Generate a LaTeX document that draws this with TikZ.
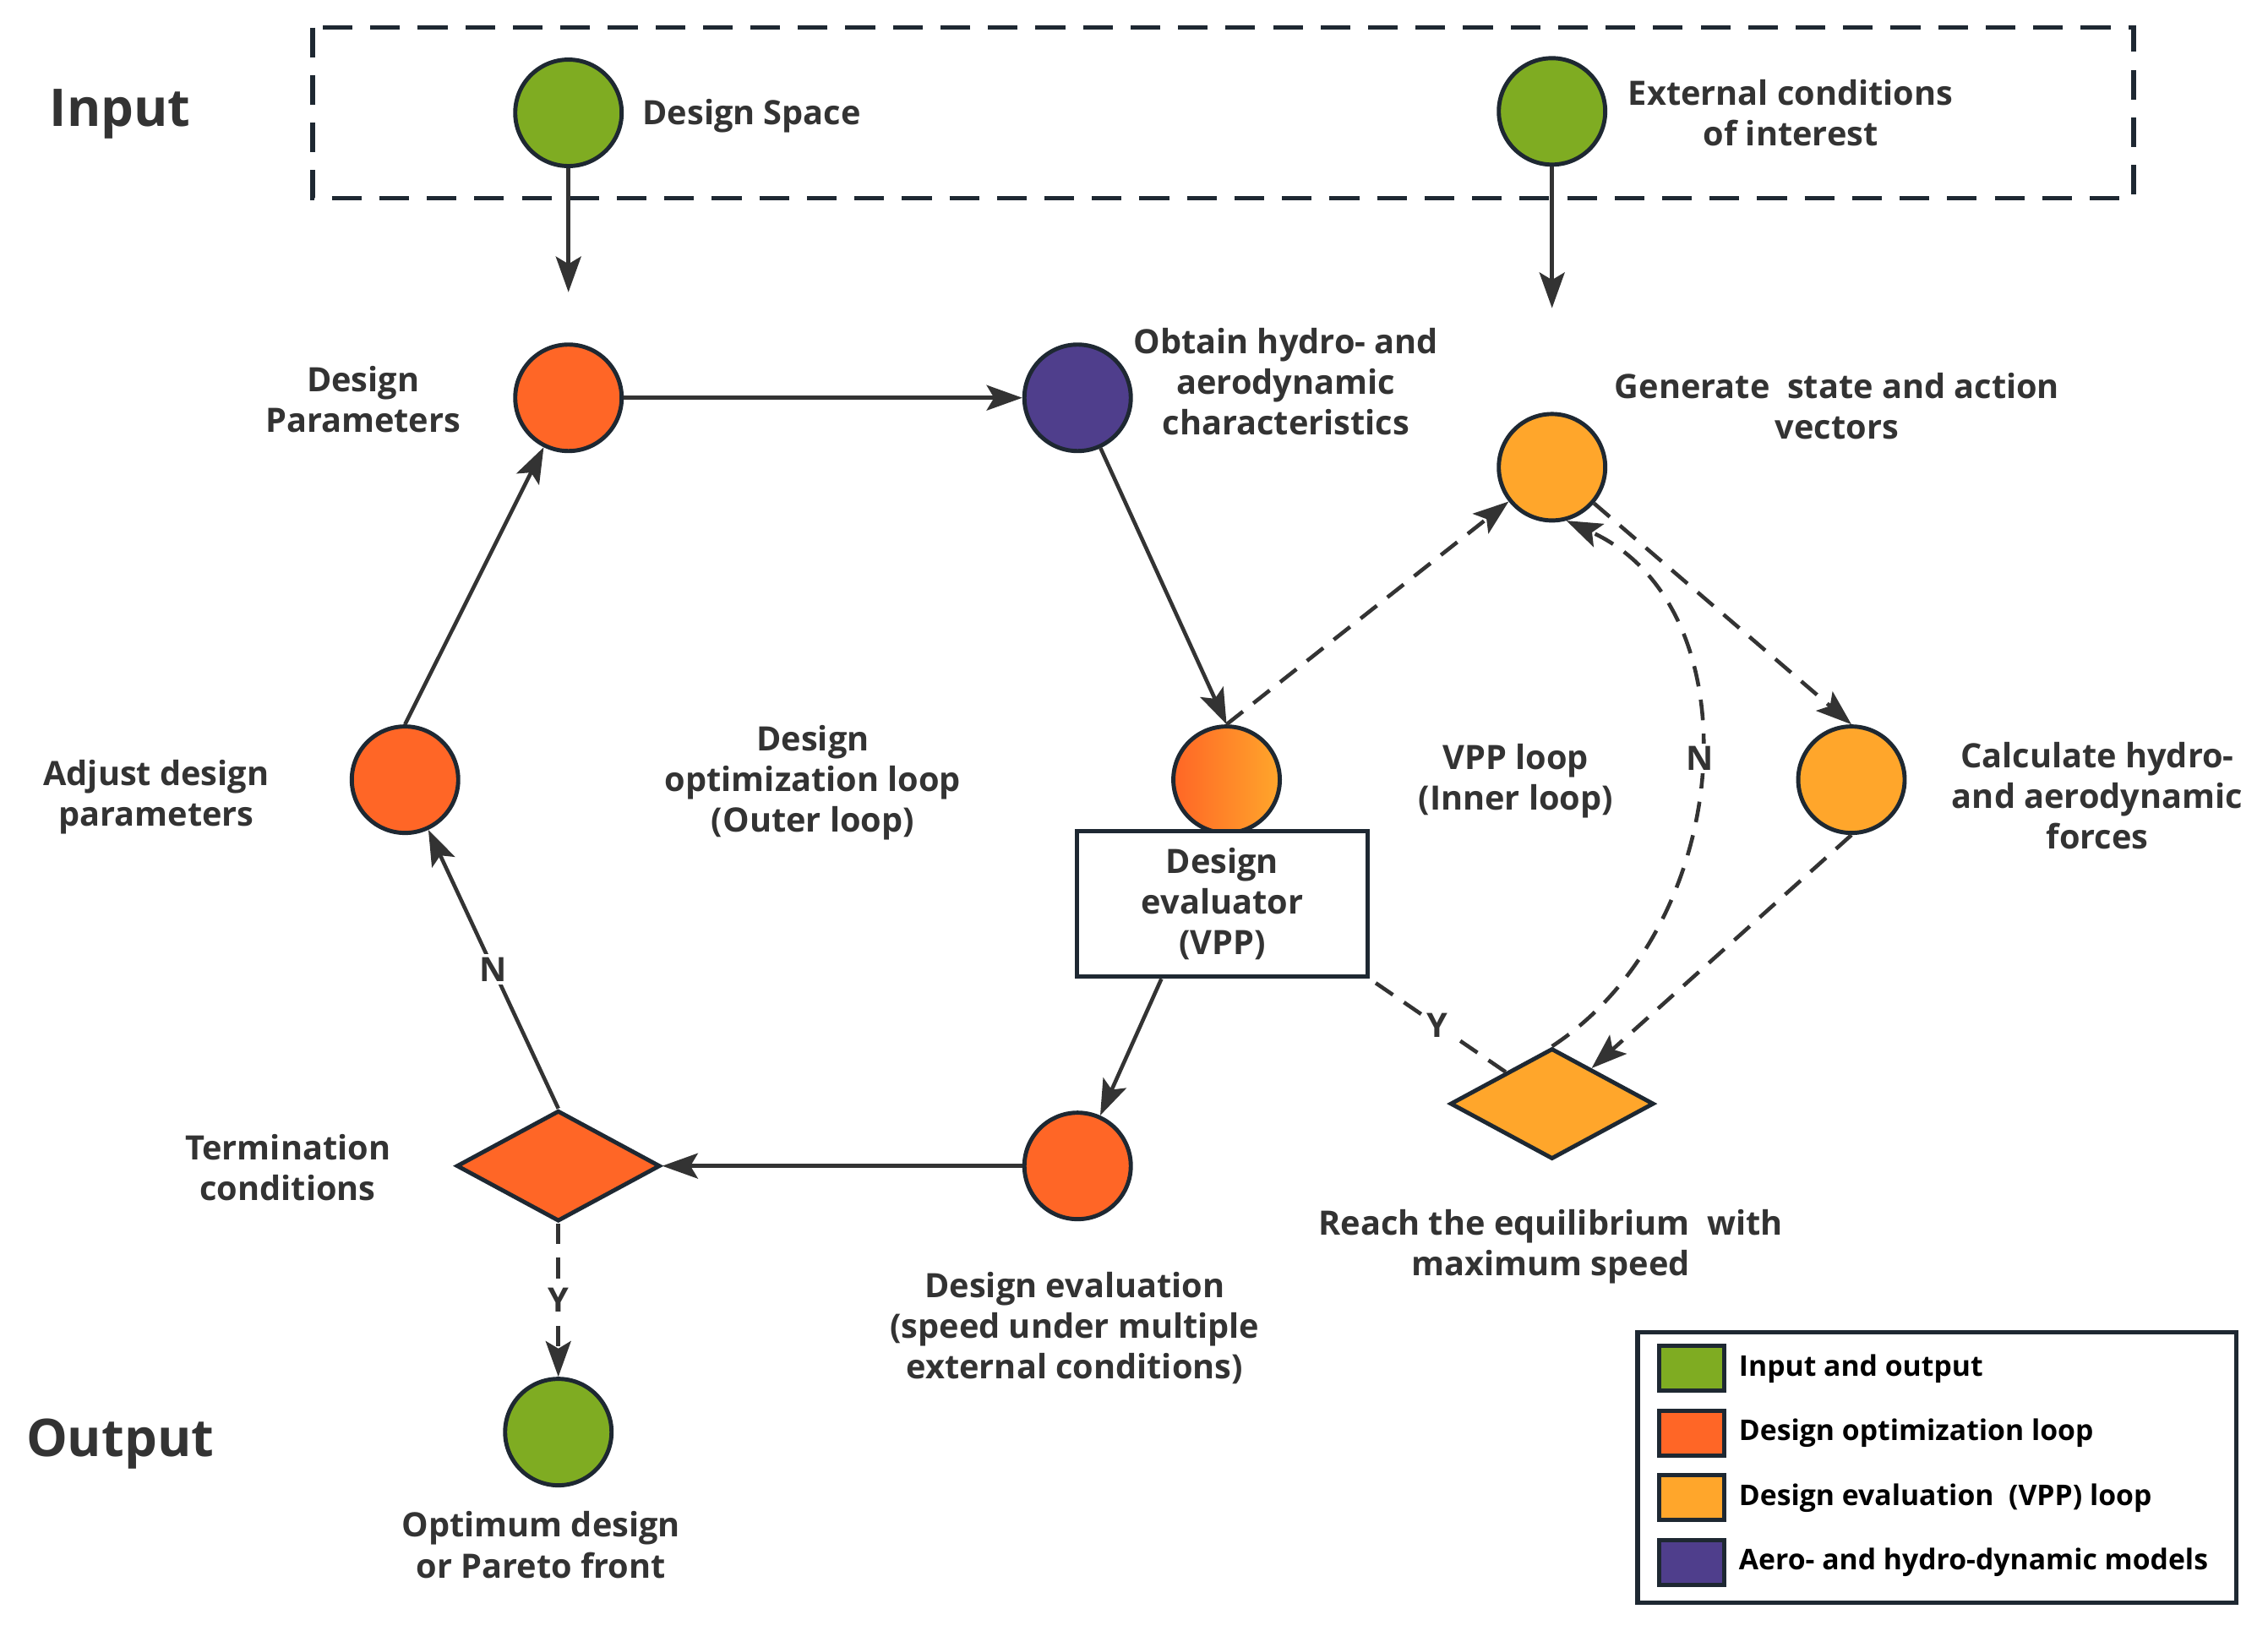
\documentclass[tikz,border=0pt]{standalone}
\usepackage{fontspec}
\setmainfont{Open Sans}
\usepackage{tikz}
\usetikzlibrary{arrows.meta,shapes,positioning}
\usepackage{xcolor}
\definecolor{vpgreen}{RGB}{127,172,34}
\definecolor{vpred}{RGB}{255,102,38}
\definecolor{vporange}{RGB}{255,166,43}
\definecolor{vppurple}{RGB}{79,62,140}
\definecolor{vpline}{RGB}{30,40,50}
\definecolor{vptext}{RGB}{51,51,51}
\tikzstyle{dot} = [circle, minimum size=1.26cm, inner sep=0pt, draw=vpline, line width=1.4pt]
\tikzstyle{decision} = [diamond, minimum width=2.41cm, minimum height=1.31cm, inner sep=0pt, draw=vpline, line width=1.4pt]
\tikzstyle{txt} = [font=\bfseries\fontsize{11.3}{13.7}\selectfont, text=vptext, align=center]
\tikzstyle{yn} = [txt, fill=white, inner sep=1pt]
\tikzstyle{key} = [rectangle, minimum width=0.77cm, minimum height=0.53cm, inner sep=0pt, draw=vpline, line width=1.4pt]
\tikzstyle{keytxt} = [font=\bfseries\fontsize{9.6}{11}\selectfont, text=black, anchor=west]
\tikzstyle{arrow} = [line width=1.3pt, draw=vptext, -{Stealth[length=12pt,width=8.5pt,inset=2.5pt]}]
\tikzstyle{dashline} = [line width=1.3pt, draw=vptext, dash pattern=on 7pt off 4.5pt]
\tikzstyle{dasharrow} = [arrow, dash pattern=on 7pt off 4.5pt]

\begin{document}
\begin{tikzpicture}[x=0.017117cm, y=-0.017117cm]
\useasboundingbox (0,0) rectangle (1568,1127);

% input frame
\draw[vpline, line width=1.6pt, dash pattern=on 10pt off 6pt] (216,19) rectangle (1475,137);
\node[font=\bfseries\fontsize{17.5}{20}\selectfont, text=vptext] (input) at (83,79) {Input};
\node[font=\bfseries\fontsize{17.5}{20}\selectfont, text=vptext] (output) at (83,998) {Output};

\node[dot, fill=vpgreen] (space) at (393,78) {};
\node[txt, anchor=west] (spacetxt) at (437,80) {Design Space};
\node[dot, fill=vpgreen] (ext) at (1073,77) {};
\node[txt] (exttxt) at (1238,78) {External conditions\\of interest};

% outer loop
\node[dot, fill=vpred] (par) at (393,275) {};
\node[txt] (partxt) at (251,276) {Design\\Parameters};
\node[dot, fill=vppurple] (model) at (745,275) {};
\node[txt] (modeltxt) at (889,264) {Obtain hydro- and\\aerodynamic\\characteristics};
\node[dot, left color=vpred, right color=vporange] (eval) at (848,539) {};
\node[txt, draw=vpline, line width=1.4pt, fill=white, minimum width=3.44cm, minimum height=1.72cm] (vpp) at (845,625) {Design\\evaluator\\(VPP)};
\node[dot, fill=vpred] (score) at (745,806) {};
\node[txt] (scoretxt) at (743,918) {Design evaluation\\(speed under multiple\\external conditions)};
\node[decision, fill=vpred] (stop) at (386,806) {};
\node[txt] (stoptxt) at (199,807) {Termination\\conditions};
\node[dot, fill=vpred] (adjust) at (280,539) {};
\node[txt] (adjusttxt) at (108,551) {Adjust design\\parameters};
\node[dot, fill=vpgreen] (best) at (386,990) {};
\node[txt] (besttxt) at (374,1068) {Optimum design\\or Pareto front};
\node[txt] (outer) at (562,541) {Design\\optimization loop\\(Outer loop)};

% inner loop
\node[dot, fill=vporange] (gen) at (1073,323) {};
\node[txt] (gentxt) at (1270,281) {Generate\ \ state and action\\vectors};
\node[dot, fill=vporange] (force) at (1280,539) {};
\node[txt] (forcetxt) at (1450,550) {Calculate hydro-\\and aerodynamic\\forces};
\node[decision, fill=vporange] (equi) at (1073,763) {};
\node[txt] (equitxt) at (1072,862) {Reach the equilibrium\ \ with\\maximum speed};
\node[txt] (inner) at (1048,540) {VPP loop\\(Inner loop)};

\coordinate (parin) at (393,202);
\coordinate (genin) at (1073,213);

\draw[arrow] (space) -- (parin);
\draw[arrow] (ext) -- (genin);
\draw[arrow] (par) -- (model);
\draw[arrow] (model) -- (eval.north);
\draw[arrow] ([xshift=-0.72cm]vpp.south) -- (score);
\draw[arrow] (score) -- (stop);
\draw[arrow] (stop.north) -- node[yn] {N} (adjust);
\draw[arrow] (adjust.north) -- (par);
\draw[dasharrow] (stop.south) -- node[yn] {Y} (best);

\draw[dasharrow] (eval.north) -- (gen);
\draw[dasharrow] (gen) -- (force.north);
\draw[dasharrow] (force.south) -- (equi);
\draw[dasharrow] (equi.north) .. controls (1200,640) and (1215,420) .. node[yn, pos=0.52] {N} (gen.-75);
\draw[dashline] (equi) -- node[yn] {Y} (vpp.south east);

% legend
\draw[vpline, line width=1.6pt] (1132,921) rectangle (1546,1108);
\foreach \c/\t [count=\i] in {vpgreen/Input and output, vpred/Design optimization loop, vporange/Design evaluation\ \ (VPP) loop, vppurple/Aero- and hydro-dynamic models} {
  \node[key, fill=\c] (key\i) at (1169.5,{946+44.7*(\i-1)}) {};
  \node[keytxt] (keytxt\i) at (1195,{946+44.7*(\i-1)}) {\t};
}
\end{tikzpicture}
\end{document}
